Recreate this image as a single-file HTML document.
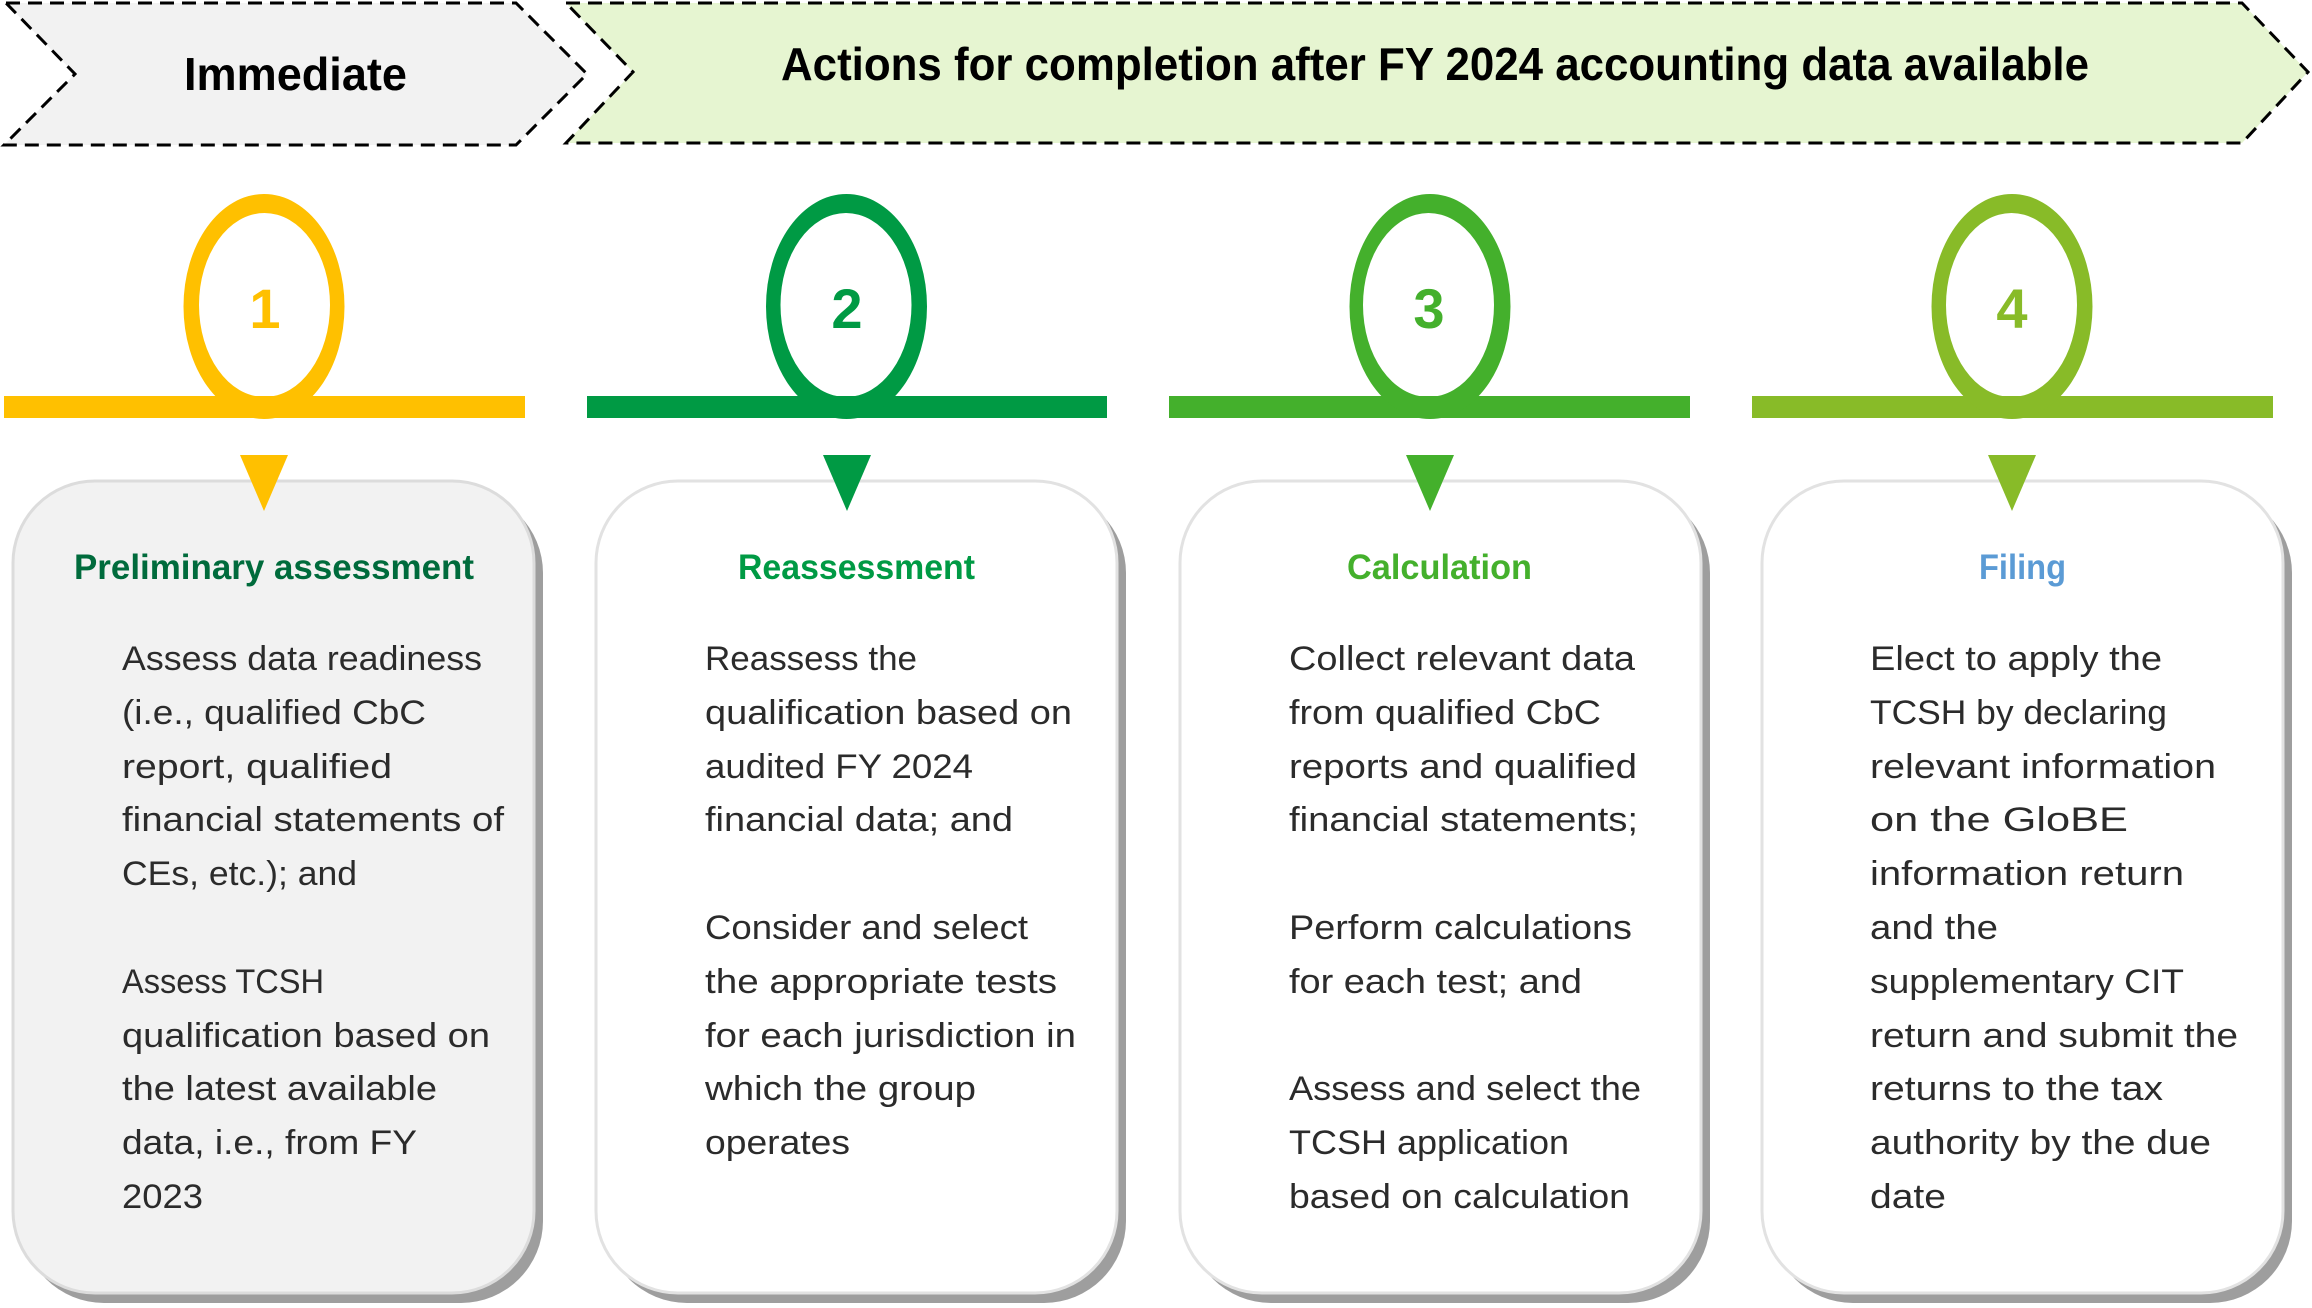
<!DOCTYPE html>
<html>
<head>
<meta charset="utf-8">
<style>
html,body{margin:0;padding:0;background:#fff;}
svg{display:block;}
.h{font-family:"Liberation Sans",Arial,sans-serif;font-weight:bold;fill:#000;}
.t{font-family:"Liberation Sans",Arial,sans-serif;font-weight:bold;}
.b{font-family:"Liberation Sans",Arial,sans-serif;font-size:34px;fill:#2b2b2b;}
.n{font-family:"Liberation Sans",Arial,sans-serif;font-weight:bold;font-size:56px;text-anchor:middle;}
</style>
</head>
<body>
<svg width="2312" height="1308" viewBox="0 0 2312 1308" xmlns="http://www.w3.org/2000/svg">
  <rect width="2312" height="1308" fill="#fff"/>

  <!-- Top chevrons -->
  <polygon points="6,3 516,3 587,74 516,145 4,145 75,74" fill="#f2f2f2" stroke="#000" stroke-width="3" stroke-dasharray="14 8"/>
  <polygon points="566,3 2242,3 2308,72 2242,143 566,143 633,72" fill="#e6f5d1" stroke="#000" stroke-width="3" stroke-dasharray="14 8"/>
  <text class="h" x="184" y="90" font-size="46" textLength="223" lengthAdjust="spacingAndGlyphs">Immediate</text>
  <text class="h" x="781" y="80" font-size="46" textLength="1308" lengthAdjust="spacingAndGlyphs">Actions for completion after FY 2024 accounting data available</text>

  <!-- Bars -->
  <rect x="4" y="396" width="521" height="22" fill="#ffc000"/>
  <rect x="587" y="396" width="520" height="22" fill="#009a44"/>
  <rect x="1169" y="396" width="521" height="22" fill="#44b02c"/>
  <rect x="1752" y="396" width="521" height="22" fill="#88bb28"/>

  <!-- Rings -->
  <path fill="#ffc000" fill-rule="evenodd" d="M183.5,306.5 a80.5,112.5 0 1,0 161,0 a80.5,112.5 0 1,0 -161,0 Z M199,305 a65.5,92 0 1,0 131,0 a65.5,92 0 1,0 -131,0 Z"/>
  <path fill="#009a44" fill-rule="evenodd" d="M766,306.5 a80.5,112.5 0 1,0 161,0 a80.5,112.5 0 1,0 -161,0 Z M780.5,305 a65.5,92 0 1,0 131,0 a65.5,92 0 1,0 -131,0 Z"/>
  <path fill="#44b02c" fill-rule="evenodd" d="M1349.5,306.5 a80.5,112.5 0 1,0 161,0 a80.5,112.5 0 1,0 -161,0 Z M1363,305 a65.5,92 0 1,0 131,0 a65.5,92 0 1,0 -131,0 Z"/>
  <path fill="#88bb28" fill-rule="evenodd" d="M1931.5,306.5 a80.5,112.5 0 1,0 161,0 a80.5,112.5 0 1,0 -161,0 Z M1946,305 a65.5,92 0 1,0 131,0 a65.5,92 0 1,0 -131,0 Z"/>

  <text class="n" x="265" y="328" fill="#ffc000">1</text>
  <text class="n" x="847" y="328" fill="#009a44">2</text>
  <text class="n" x="1429" y="328" fill="#44b02c">3</text>
  <text class="n" x="2012" y="328" fill="#88bb28">4</text>

  <!-- Cards: shadows -->
  <rect x="22" y="491" width="521" height="812" rx="82" ry="82" fill="#9e9e9e"/>
  <rect x="605" y="491" width="521" height="812" rx="82" ry="82" fill="#9e9e9e"/>
  <rect x="1189" y="491" width="521" height="812" rx="82" ry="82" fill="#9e9e9e"/>
  <rect x="1771" y="491" width="521" height="812" rx="82" ry="82" fill="#9e9e9e"/>
  <!-- Cards -->
  <rect x="13" y="481" width="521" height="812" rx="82" ry="82" fill="#f2f2f2" stroke="#dcdcdc" stroke-width="3"/>
  <rect x="596" y="481" width="521" height="812" rx="82" ry="82" fill="#fff" stroke="#e2e2e2" stroke-width="3"/>
  <rect x="1180" y="481" width="521" height="812" rx="82" ry="82" fill="#fff" stroke="#e2e2e2" stroke-width="3"/>
  <rect x="1762" y="481" width="521" height="812" rx="82" ry="82" fill="#fff" stroke="#e2e2e2" stroke-width="3"/>

  <!-- Triangles -->
  <polygon points="240,455 288,455 264,511" fill="#ffc000"/>
  <polygon points="823,455 871,455 847,511" fill="#009a44"/>
  <polygon points="1406,455 1454,455 1430,511" fill="#44b02c"/>
  <polygon points="1988,455 2036,455 2012,511" fill="#88bb28"/>

  <!-- Titles -->
  <text class="t" x="74" y="579" font-size="35" fill="#006b3c" textLength="400" lengthAdjust="spacingAndGlyphs">Preliminary assessment</text>
  <text class="t" x="738" y="579" font-size="35" fill="#009a44" textLength="237" lengthAdjust="spacingAndGlyphs">Reassessment</text>
  <text class="t" x="1347" y="579" font-size="35" fill="#44b02c" textLength="185" lengthAdjust="spacingAndGlyphs">Calculation</text>
  <text class="t" x="1979" y="579" font-size="35" fill="#5b9bd5" textLength="87" lengthAdjust="spacingAndGlyphs">Filing</text>

  <!-- Column 1 body -->
  <text class="b" x="122" y="670" textLength="360" lengthAdjust="spacingAndGlyphs">Assess data readiness</text>
  <text class="b" x="122" y="724" textLength="304" lengthAdjust="spacingAndGlyphs">(i.e., qualified CbC</text>
  <text class="b" x="122" y="778" textLength="270" lengthAdjust="spacingAndGlyphs">report, qualified</text>
  <text class="b" x="122" y="831" textLength="382" lengthAdjust="spacingAndGlyphs">financial statements of</text>
  <text class="b" x="122" y="885" textLength="235" lengthAdjust="spacingAndGlyphs">CEs, etc.); and</text>
  <text class="b" x="122" y="993" textLength="202" lengthAdjust="spacingAndGlyphs">Assess TCSH</text>
  <text class="b" x="122" y="1047" textLength="368" lengthAdjust="spacingAndGlyphs">qualification based on</text>
  <text class="b" x="122" y="1100" textLength="315" lengthAdjust="spacingAndGlyphs">the latest available</text>
  <text class="b" x="122" y="1154" textLength="295" lengthAdjust="spacingAndGlyphs">data, i.e., from FY</text>
  <text class="b" x="122" y="1208" textLength="81" lengthAdjust="spacingAndGlyphs">2023</text>

  <!-- Column 2 body -->
  <text class="b" x="705" y="670" textLength="212" lengthAdjust="spacingAndGlyphs">Reassess the</text>
  <text class="b" x="705" y="724" textLength="367" lengthAdjust="spacingAndGlyphs">qualification based on</text>
  <text class="b" x="705" y="778" textLength="268" lengthAdjust="spacingAndGlyphs">audited FY 2024</text>
  <text class="b" x="705" y="831" textLength="308" lengthAdjust="spacingAndGlyphs">financial data; and</text>
  <text class="b" x="705" y="939" textLength="323" lengthAdjust="spacingAndGlyphs">Consider and select</text>
  <text class="b" x="705" y="993" textLength="352" lengthAdjust="spacingAndGlyphs">the appropriate tests</text>
  <text class="b" x="705" y="1047" textLength="371" lengthAdjust="spacingAndGlyphs">for each jurisdiction in</text>
  <text class="b" x="705" y="1100" textLength="271" lengthAdjust="spacingAndGlyphs">which the group</text>
  <text class="b" x="705" y="1154" textLength="145" lengthAdjust="spacingAndGlyphs">operates</text>

  <!-- Column 3 body -->
  <text class="b" x="1289" y="670" textLength="346" lengthAdjust="spacingAndGlyphs">Collect relevant data</text>
  <text class="b" x="1289" y="724" textLength="312" lengthAdjust="spacingAndGlyphs">from qualified CbC</text>
  <text class="b" x="1289" y="778" textLength="348" lengthAdjust="spacingAndGlyphs">reports and qualified</text>
  <text class="b" x="1289" y="831" textLength="349" lengthAdjust="spacingAndGlyphs">financial statements;</text>
  <text class="b" x="1289" y="939" textLength="343" lengthAdjust="spacingAndGlyphs">Perform calculations</text>
  <text class="b" x="1289" y="993" textLength="293" lengthAdjust="spacingAndGlyphs">for each test; and</text>
  <text class="b" x="1289" y="1100" textLength="352" lengthAdjust="spacingAndGlyphs">Assess and select the</text>
  <text class="b" x="1289" y="1154" textLength="280" lengthAdjust="spacingAndGlyphs">TCSH application</text>
  <text class="b" x="1289" y="1208" textLength="341" lengthAdjust="spacingAndGlyphs">based on calculation</text>

  <!-- Column 4 body -->
  <text class="b" x="1870" y="670" textLength="292" lengthAdjust="spacingAndGlyphs">Elect to apply the</text>
  <text class="b" x="1870" y="724" textLength="297" lengthAdjust="spacingAndGlyphs">TCSH by declaring</text>
  <text class="b" x="1870" y="778" textLength="346" lengthAdjust="spacingAndGlyphs">relevant information</text>
  <text class="b" x="1870" y="831" textLength="258" lengthAdjust="spacingAndGlyphs">on the GloBE</text>
  <text class="b" x="1870" y="885" textLength="314" lengthAdjust="spacingAndGlyphs">information return</text>
  <text class="b" x="1870" y="939" textLength="128" lengthAdjust="spacingAndGlyphs">and the</text>
  <text class="b" x="1870" y="993" textLength="314" lengthAdjust="spacingAndGlyphs">supplementary CIT</text>
  <text class="b" x="1870" y="1047" textLength="368" lengthAdjust="spacingAndGlyphs">return and submit the</text>
  <text class="b" x="1870" y="1100" textLength="293" lengthAdjust="spacingAndGlyphs">returns to the tax</text>
  <text class="b" x="1870" y="1154" textLength="341" lengthAdjust="spacingAndGlyphs">authority by the due</text>
  <text class="b" x="1870" y="1208" textLength="76" lengthAdjust="spacingAndGlyphs">date</text>
</svg>
</body>
</html>
